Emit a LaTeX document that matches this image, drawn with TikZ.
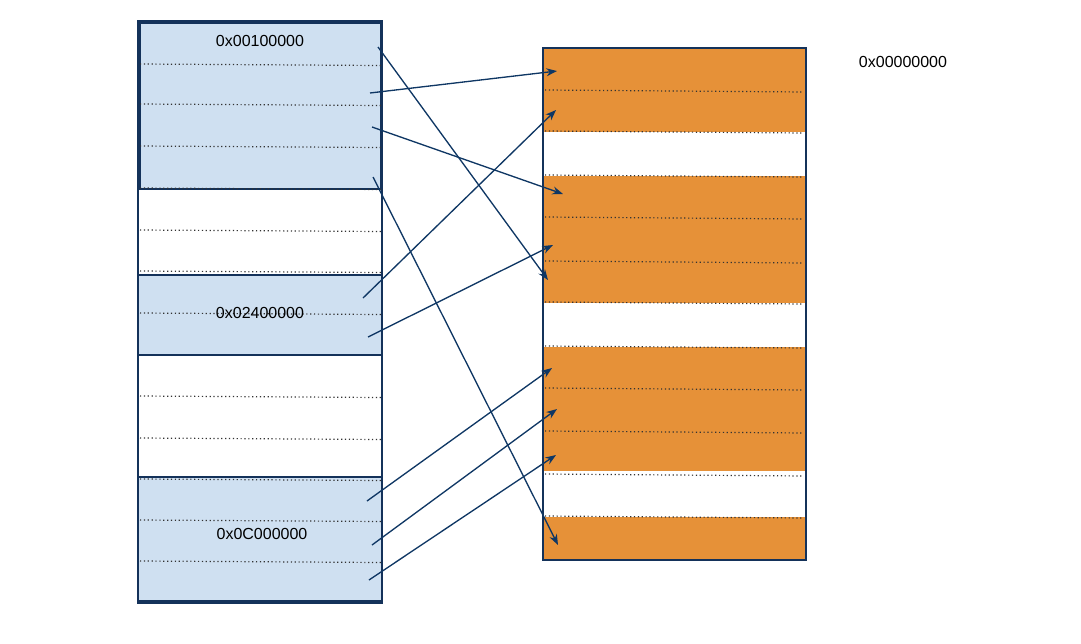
\documentclass[tikz,border=0pt]{standalone}
\usepackage{fontspec}
\setmainfont{Liberation Sans}
\usetikzlibrary{arrows.meta}
\definecolor{bluefill}{RGB}{207,224,241}
\definecolor{navy}{RGB}{20,50,90}
\definecolor{orng}{RGB}{230,145,56}
\definecolor{arr}{RGB}{15,55,100}
\begin{document}
\begin{tikzpicture}[x=0.75pt,y=-0.75pt,
  box/.style={draw=navy,line width=1.2pt},
  dots/.style={dotted,line width=0.9pt,black!80},
  lab/.style={font=\fontsize{12}{14}\selectfont,inner sep=0pt},
  link/.style={draw=arr,line width=1pt,-{Stealth[length=8pt,width=6pt]}}]
\useasboundingbox (0,0) rectangle (1081,643);
% left column
\fill[white] (138,21) rectangle (382,603);
\fill[bluefill] (140,23) rectangle (381,189);
\fill[bluefill] (138,275) rectangle (382,355);
\fill[bluefill] (138,477) rectangle (382,601);
\draw[box] (140,23) rectangle (381,189);
\draw[box] (138,275) rectangle (382,355);
\draw[box] (138,477) rectangle (382,601);
\draw[box] (138,21) rectangle (382,603);
\foreach \y in {64,104,146,188,230,271,313,396,438,479,520,561}
  \draw[dots] (140,\y) -- (381,\y+1.5);
% right column
\fill[orng] (543,48) rectangle (806,132);
\fill[orng] (543,176) rectangle (806,303);
\fill[orng] (543,347) rectangle (806,471);
\fill[orng] (543,517) rectangle (806,560);
\draw[box] (543,48) rectangle (806,560);
\foreach \y in {91,132,176,218,262,303,347,389,432,475,517}
  \draw[dots] (545,\y-1) -- (804,\y+1);
% labels
\node[lab] (l1) at (260,41) {0x00100000};
\node[lab] (l2) at (260,313) {0x02400000};
\node[lab] (l3) at (262,534) {0x0C000000};
\node[lab] (l4) at (903,62) {0x00000000};
% arrow endpoints
\coordinate (s1) at (378,47);  \coordinate (e1) at (548,280);
\coordinate (s2) at (370,93);  \coordinate (e2) at (557,71);
\coordinate (s3) at (372,127); \coordinate (e3) at (563,194);
\coordinate (s4) at (373,177); \coordinate (e4) at (558,545);
\coordinate (s5) at (363,298); \coordinate (e5) at (556,110);
\coordinate (s6) at (368,337); \coordinate (e6) at (553,245);
\coordinate (s7) at (367,501); \coordinate (e7) at (552,368);
\coordinate (s8) at (372,545); \coordinate (e8) at (557,409);
\coordinate (s9) at (369,580); \coordinate (e9) at (556,455);
\foreach \i in {1,...,9} \draw[link] (s\i) -- (e\i);
\end{tikzpicture}
\end{document}
